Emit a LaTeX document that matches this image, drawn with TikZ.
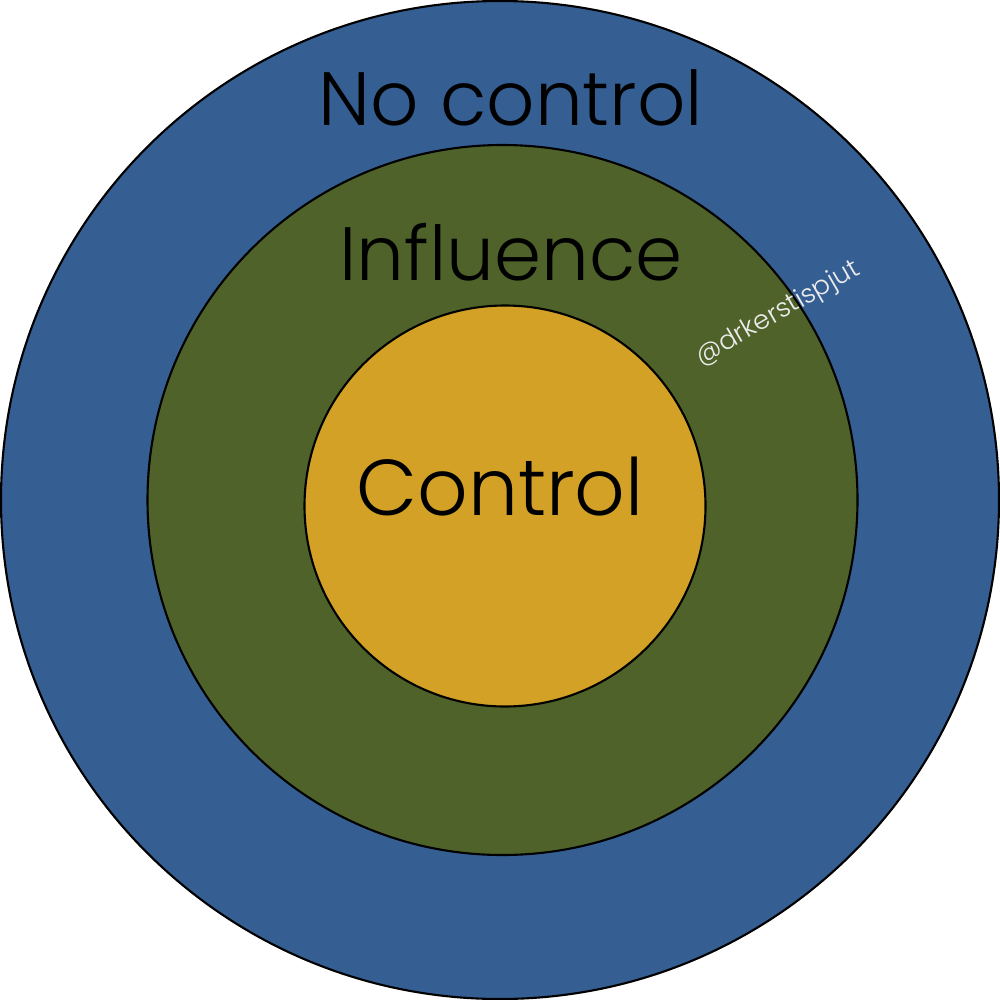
\documentclass[tikz,border=0pt]{standalone}
\usepackage{fontspec}
\setmainfont{Poppins}[UprightFont=* Light]
\definecolor{cblue}{HTML}{355F93}
\definecolor{cgreen}{HTML}{4F622A}
\definecolor{cgold}{HTML}{D3A125}
\begin{document}
\begin{tikzpicture}[x=0.01cm,y=-0.01cm,
  ring/.style={draw=black,line width=0.6pt},
  lbl/.style={font=\fontsize{21.5}{25}\selectfont,inner sep=0pt}]
\useasboundingbox (0,0) rectangle (1000,1000);
\fill[white] (0,0) rectangle (1000,1000);
\draw[ring,fill=cblue] (500,500) circle (499);
\draw[ring,fill=cgreen] (502.5,500) circle (355);
\draw[ring,fill=cgold] (505,506) circle (200.5);
\node[lbl] (nc) at (511,98) {No control};
\node[lbl] (inf) at (511,252) {Influence};
\node[lbl,font=\fontsize{22.5}{26}\selectfont] (ctl) at (500,487) {Control};
\node[font=\fontsize{7.5}{9}\selectfont,text=white!85!gray,rotate=30,inner sep=0pt] (wm) at (778,314) {@drkerstispjut};
\end{tikzpicture}
\end{document}
